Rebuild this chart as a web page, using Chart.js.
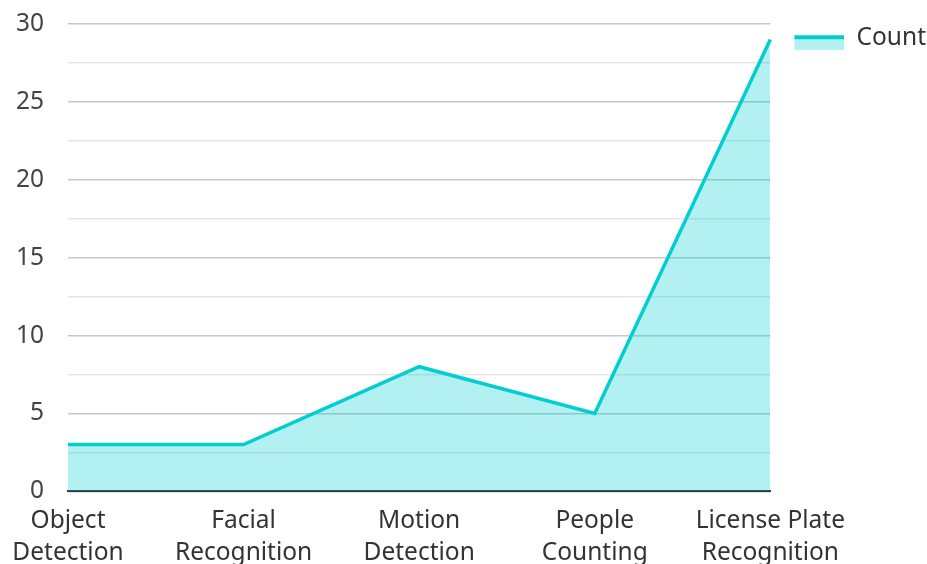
<!DOCTYPE html>
<html>
<head>
<meta charset="utf-8">
<script src="https://cdn.jsdelivr.net/npm/chart.js@4.4.1/dist/chart.umd.min.js"></script>
<style>
  html, body { margin: 0; padding: 0; overflow: hidden; background: #fff; }
  #wrap { position: relative; width: 927px; height: 583px; }
</style>
</head>
<body>
<div id="wrap"><canvas id="c"></canvas></div>
<script>
const categories = [["Object", "Detection"], ["Facial", "Recognition"], ["Motion", "Detection"], ["People", "Counting"], ["License Plate", "Recognition"]];
const countValues = [3, 3, 8, 5, 29];
const seriesName = "Count";
const yTickValues = [0, 2.5, 5, 7.5, 10, 12.5, 15, 17.5, 20, 22.5, 25, 27.5, 30];

const lineColor = "#00CED1";
const fillColor = "rgba(0, 206, 209, 0.3)";

// legend swatch: thick top line over a light fill (right-aligned in a wider transparent box)
const SW_W = 67, SW_H = 24;
const sw = document.createElement("canvas");
sw.width = SW_W; sw.height = SW_H;
const sctx = sw.getContext("2d");
sctx.fillStyle = fillColor;
sctx.fillRect(SW_W - 50, 13, 50, 11);
sctx.fillStyle = lineColor;
sctx.fillRect(SW_W - 50, 9, 50, 4);

const FS = 24.5;
Chart.defaults.font.family = "'Noto Sans', sans-serif";
Chart.defaults.font.size = FS;

new Chart(document.getElementById("c"), {
  type: "line",
  data: {
    labels: categories,
    datasets: [{
      label: seriesName,
      data: countValues,
      borderColor: lineColor,
      backgroundColor: fillColor,
      borderWidth: 3.5,
      fill: "origin",
      tension: 0,
      pointRadius: 0,
      pointHoverRadius: 0,
      pointStyle: sw
    }]
  },
  options: {
    responsive: true,
    maintainAspectRatio: false,
    animation: false,
    layout: { padding: { top: -15, right: -9, left: 0, bottom: 0 } },
    plugins: {
      tooltip: { enabled: false },
      legend: {
        position: "right",
        align: "start",
        title: { display: true, text: " ", font: { size: 10, lineHeight: 1.2 }, padding: { top: 0, bottom: 22 } },
        labels: {
          usePointStyle: true,
          pointStyleWidth: SW_W,
          boxHeight: SW_H,
          color: "#333",
          padding: 7,
          font: { size: FS }
        }
      }
    },
    scales: {
      x: {
        offset: false,
        grid: { display: false, drawTicks: false },
        border: { display: true, color: "#333", width: 2 },
        ticks: { color: "#333", padding: 14, maxRotation: 0, autoSkip: false, font: { size: FS, lineHeight: 1.3 } },
        afterFit: (axis) => { axis.paddingLeft = 0; axis.paddingRight = 0; }
      },
      y: {
        min: 0,
        max: 30,
        border: { display: false },
        afterBuildTicks: (axis) => { axis.ticks = yTickValues.map(v => ({ value: v })); },
        afterFit: (axis) => { axis.width = 68; axis.paddingTop = 24; },
        grid: {
          drawTicks: false,
          color: (ctx) => (ctx.tick && ctx.tick.value % 5 === 0) ? "#c8c8c8" : "#e6e6e6",
          lineWidth: 1.5
        },
        ticks: {
          autoSkip: false,
          color: "#444",
          padding: 24,
          font: { size: FS },
          callback: (v) => (v % 5 === 0 ? String(v) : "")
        }
      }
    }
  }
});
</script>
</body>
</html>
